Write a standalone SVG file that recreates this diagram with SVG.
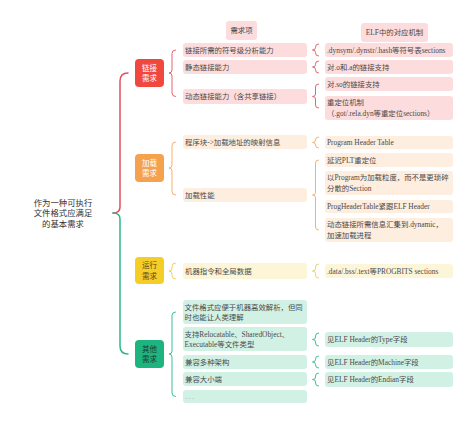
<svg xmlns="http://www.w3.org/2000/svg" width="474" height="424" viewBox="0 0 474 424">
<style>
text{font-family:"Liberation Serif","Noto Sans CJK SC",sans-serif;font-size:7.4px;fill:#4a4a4a}
.root{font-family:"Noto Sans CJK SC",sans-serif;font-size:8.4px;fill:#333;text-anchor:middle}
.nt{font-family:"Noto Sans CJK SC",sans-serif;font-size:7.5px;text-anchor:middle}
.hd{text-anchor:middle}
.pk{fill:#fcdcdc}
.or{fill:#fdeedf}
.ye{fill:#fdf5d8}
.gr{fill:#d2f1e5}
.br{fill:none;stroke-width:1;stroke-linecap:round}
.bred{stroke:#e4646c}
.bor{stroke:#f4b072}
.bye{stroke:#f0d162}
.bgr{stroke:#3dbf97}
.trunk{fill:none;stroke-width:1.5;stroke-linecap:round}
.dots{fill:#9aa8a2}
</style>
<rect width="474" height="424" fill="#ffffff"/>
<g id="connectors">
<path class="trunk" stroke="#e0505c" d="M128,73 Q120,73 120,81 L120,207 Q120,213 113,213"/>
<path class="trunk" stroke="#2fb88a" d="M113,213 Q120,213 120,219 L120,346 Q120,354 128,354"/>
<path class="br bred" d="M175.5,50 Q172,50 172,53.5 L172,70 Q172,73 169,73 Q172,73 172,76 L172,93 Q172,96.5 175.5,96.5"/>
<path class="br bor" d="M175.5,142 Q172,142 172,145.5 L172,165 Q172,168 169,168 Q172,168 172,171 L172,191.5 Q172,195 175.5,195"/>
<path class="br bye" d="M175.5,263 Q172,263 172,266.5 L172,268 Q172,271 169,271 Q172,271 172,274 L172,275.5 Q172,279 175.5,279"/>
<path class="br bgr" d="M175.5,312 Q172,312 172,315.5 L172,351 Q172,354 169,354 Q172,354 172,357 L172,393 Q172,396.5 175.5,396.5"/>
<path class="br bred" d="M318.5,44 Q315.5,44 315.5,47 L315.5,47.5 Q315.5,50 312.5,50 Q315.5,50 315.5,52.5 L315.5,53 Q315.5,56 318.5,56"/>
<path class="br bred" d="M318.5,61 Q315.5,61 315.5,64 L315.5,64.5 Q315.5,67 312.5,67 Q315.5,67 315.5,69.5 L315.5,70 Q315.5,73 318.5,73"/>
<path class="br bred" d="M318.5,84 Q315.5,84 315.5,87 L315.5,94 Q315.5,96.5 312.5,96.5 Q315.5,96.5 315.5,99 L315.5,105 Q315.5,108 318.5,108"/>
<path class="br bor" d="M318.5,137 Q315.5,137 315.5,140 Q315.5,142.5 312.5,142.5 Q315.5,142.5 315.5,145 Q315.5,148 318.5,148"/>
<path class="br bor" d="M318.5,160 Q315.5,160 315.5,163 L315.5,192.5 Q315.5,195 312.5,195 Q315.5,195 315.5,197.5 L315.5,227 Q315.5,230 318.5,230"/>
<path class="br bye" d="M318.5,264 Q315.5,264 315.5,267 L315.5,268.5 Q315.5,271 312.5,271 Q315.5,271 315.5,273.5 L315.5,275 Q315.5,278 318.5,278"/>
<path class="br bgr" d="M318.5,333 Q315.5,333 315.5,336 L315.5,337 Q315.5,339.5 312.5,339.5 Q315.5,339.5 315.5,342 L315.5,343 Q315.5,346 318.5,346"/>
<path class="br bgr" d="M318.5,356 Q315.5,356 315.5,359 L315.5,359.5 Q315.5,362 312.5,362 Q315.5,362 315.5,364.5 L315.5,365 Q315.5,368 318.5,368"/>
<path class="br bgr" d="M318.5,373 Q315.5,373 315.5,376 L315.5,377 Q315.5,379.5 312.5,379.5 Q315.5,379.5 315.5,382 L315.5,383 Q315.5,386 318.5,386"/>
</g>
<g id="root">
<text class="root" x="63" y="205.8">作为一种可执行</text>
<text class="root" x="63" y="216.4">文件格式应满足</text>
<text class="root" x="63" y="227">的基本需求</text>
</g>
<g id="header-req"><rect class="pk" x="226" y="21" width="31" height="19" rx="3"/><text class="hd" x="241.5" y="33.3">需求项</text></g>
<g id="header-elf"><rect class="pk" x="361" y="23" width="67" height="19" rx="3"/><text class="hd" x="394.5" y="35.3">ELF中的对应机制</text></g>
<g id="node-link"><rect x="135" y="59" width="29" height="28" rx="4" fill="#f0483d"/><text class="nt" x="149.5" y="70.5" fill="#ffffff" style="fill:#fff">链接</text><text class="nt" x="149.5" y="81.1" style="fill:#fff">需求</text></g>
<g id="node-load"><rect x="135" y="154" width="29" height="28" rx="4" fill="#f5a24f"/><text class="nt" x="149.5" y="165.5" style="fill:#fff">加载</text><text class="nt" x="149.5" y="176.1" style="fill:#fff">需求</text></g>
<g id="node-run"><rect x="135" y="257" width="29" height="27" rx="4" fill="#f5cd27"/><text class="nt" x="149.5" y="268" style="fill:#5a4a1c">运行</text><text class="nt" x="149.5" y="278.6" style="fill:#5a4a1c">需求</text></g>
<g id="node-other"><rect x="135" y="340" width="29" height="28" rx="4" fill="#1db47f"/><text class="nt" x="149.5" y="351.5" style="fill:#1f3a30">其他</text><text class="nt" x="149.5" y="362.1" style="fill:#1f3a30">需求</text></g>
<g id="l1"><rect class="pk" x="183" y="43" width="124" height="14" rx="3"/><text x="185" y="52.8">链接所需的符号级分析能力</text></g>
<g id="l2"><rect class="pk" x="183" y="60" width="124" height="14" rx="3"/><text x="185" y="69.8">静态链接能力</text></g>
<g id="l3"><rect class="pk" x="183" y="89" width="124" height="15" rx="3"/><text x="185" y="99.3">动态链接能力（含共享链接）</text></g>
<g id="e1"><rect class="pk" x="325" y="43" width="128" height="14" rx="3"/><text x="327" y="52.8">.dynsym/.dynstr/.hash等符号表sections</text></g>
<g id="e2"><rect class="pk" x="325" y="60" width="128" height="14" rx="3"/><text x="327" y="69.8">对.o和.a的链接支持</text></g>
<g id="e3"><rect class="pk" x="325" y="77" width="128" height="14" rx="3"/><text x="327" y="86.8">对.so的链接支持</text></g>
<g id="e4"><rect class="pk" x="325" y="96" width="128" height="24" rx="3"/><text x="327" y="105.3">重定位机制</text><text x="327" y="116.3">（.got/.rela.dyn等重定位sections）</text></g>
<g id="d1"><rect class="or" x="183" y="135" width="124" height="14" rx="3"/><text x="185" y="144.8">程序块-&gt;加载地址的映射信息</text></g>
<g id="d2"><rect class="or" x="183" y="188" width="124" height="14" rx="3"/><text x="185" y="197.8">加载性能</text></g>
<g id="p1"><rect class="or" x="325" y="136" width="128" height="13" rx="3"/><text x="327" y="145.3">Program Header Table</text></g>
<g id="p2"><rect class="or" x="325" y="153" width="128" height="14" rx="3"/><text x="327" y="162.8">延迟PLT重定位</text></g>
<g id="p3"><rect class="or" x="325" y="171" width="128" height="24" rx="3"/><text x="327" y="180.3">以Program为加载粒度，而不是更琐碎</text><text x="327" y="191.3">分散的Section</text></g>
<g id="p4"><rect class="or" x="325" y="200" width="128" height="13" rx="3"/><text x="327" y="209.3">ProgHeaderTable紧跟ELF Header</text></g>
<g id="p5"><rect class="or" x="325" y="218" width="128" height="24" rx="3"/><text x="327" y="227.3">动态链接所需信息汇集到.dynamic，</text><text x="327" y="238.3">加速加载进程</text></g>
<g id="r1"><rect class="ye" x="183" y="263" width="124" height="16" rx="3"/><text x="185" y="273.8">机器指令和全局数据</text></g>
<g id="r2"><rect class="ye" x="325" y="264" width="128" height="14" rx="3"/><text x="327" y="273.8">.data/.bss/.text等PROGBITS sections</text></g>
<g id="o1"><rect class="gr" x="183" y="300" width="124" height="24" rx="3"/><text x="184.5" y="309.6">文件格式应便于机器高效解析，但同</text><text x="184.5" y="320">时也能让人类理解</text></g>
<g id="o2"><rect class="gr" x="183" y="327" width="124" height="24" rx="3"/><text x="184.5" y="336.6">支持Relocatable、SharedObject、</text><text x="184.5" y="347">Executable等文件类型</text></g>
<g id="o3"><rect class="gr" x="183" y="355" width="124" height="14" rx="3"/><text x="185" y="364.8">兼容多种架构</text></g>
<g id="o4"><rect class="gr" x="183" y="372" width="124" height="14" rx="3"/><text x="185" y="381.8">兼容大小端</text></g>
<g id="o5"><rect class="gr" x="183" y="390" width="124" height="13" rx="3"/><text class="dots" x="185" y="399" letter-spacing="1.6">...</text></g>
<g id="t1"><rect class="gr" x="325" y="332" width="128" height="15" rx="3"/><text x="327" y="342.3">见ELF Header的Type字段</text></g>
<g id="t2"><rect class="gr" x="325" y="355" width="128" height="14" rx="3"/><text x="327" y="364.8">见ELF Header的Machine字段</text></g>
<g id="t3"><rect class="gr" x="325" y="372" width="128" height="15" rx="3"/><text x="327" y="382.3">见ELF Header的Endian字段</text></g>
</svg>
